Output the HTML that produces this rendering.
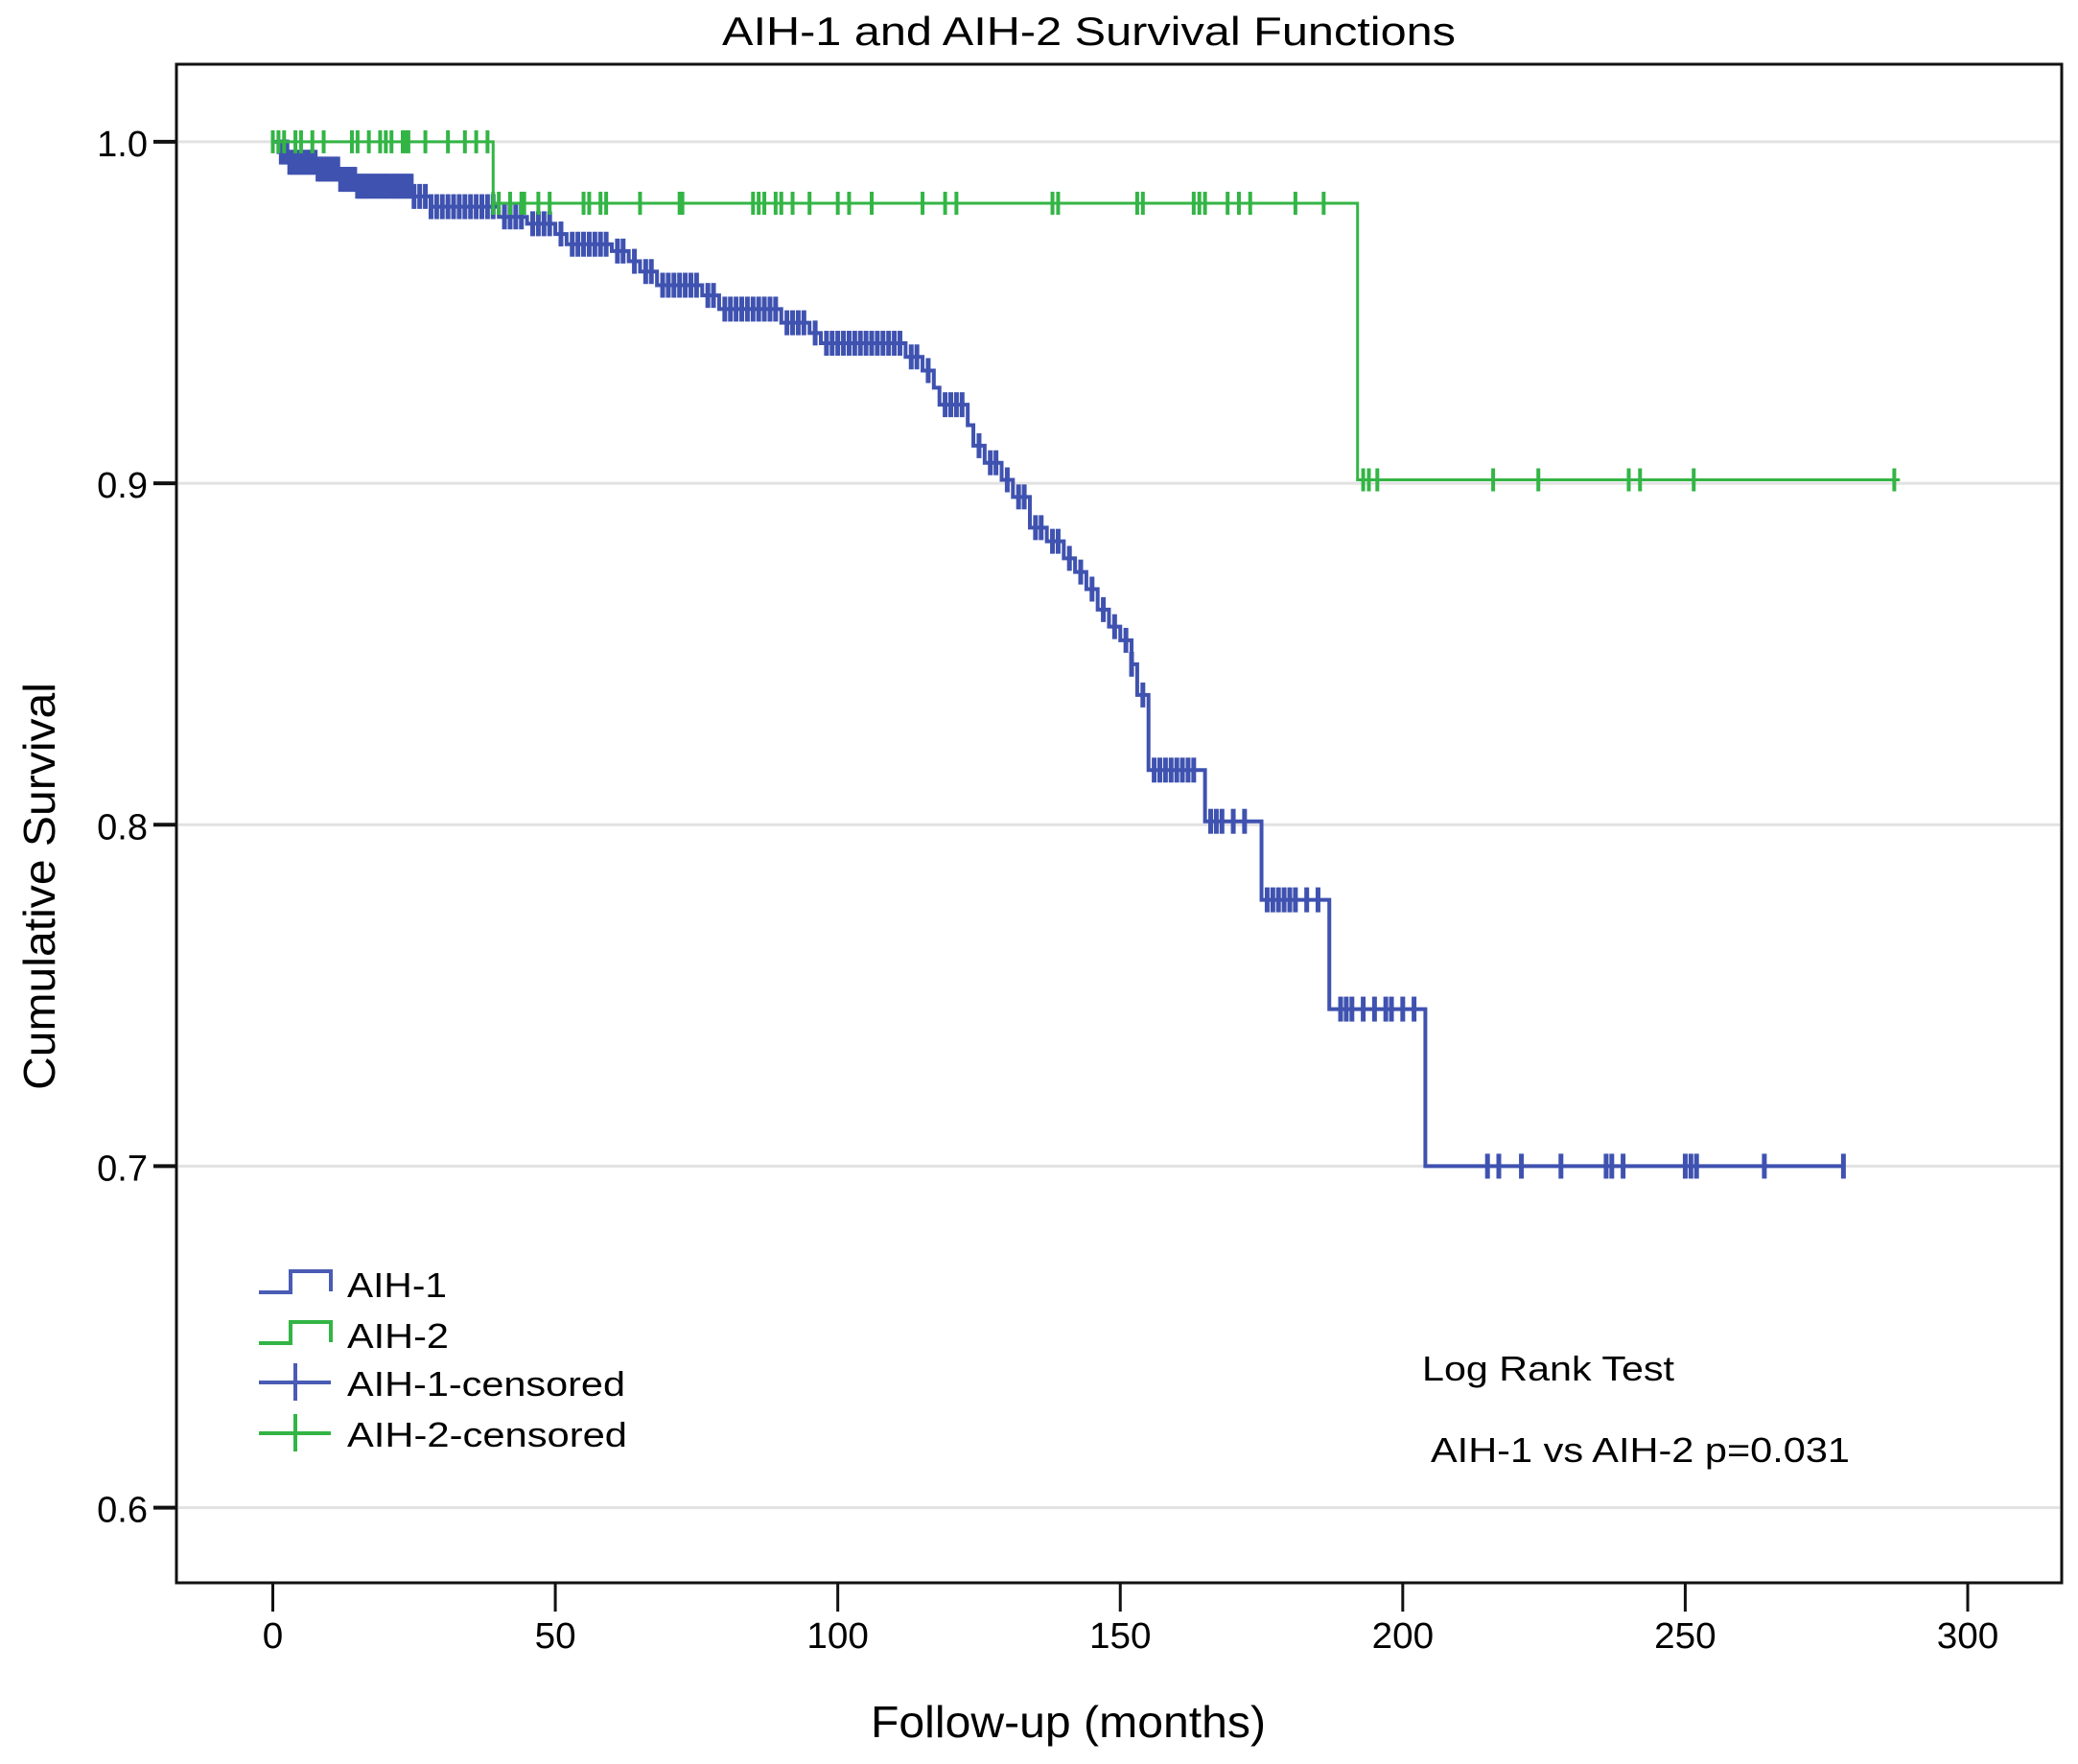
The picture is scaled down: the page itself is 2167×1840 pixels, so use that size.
<!DOCTYPE html>
<html><head><meta charset="utf-8"><style>
html,body{margin:0;padding:0;background:#fff;}
svg{display:block;font-family:"Liberation Sans",sans-serif;}
</style></head><body>
<svg id="chart" width="2167" height="1840" viewBox="0 0 2167 1840">
<text x="753" y="47" font-size="42" textLength="765" lengthAdjust="spacingAndGlyphs">AIH-1 and AIH-2 Survival Functions</text>
<g id="grid"></g>
<g id="series"></g>
<rect x="184" y="67" width="1966" height="1584" fill="none" stroke="#111" stroke-width="3"/>
<g id="axes"></g>
<text x="908" y="1812" font-size="46" textLength="412" lengthAdjust="spacingAndGlyphs">Follow-up (months)</text>
<text transform="translate(57,1137) rotate(-90)" font-size="46" textLength="425" lengthAdjust="spacingAndGlyphs">Cumulative Survival</text>
<g>
 <g>
  <polyline points="270,1348 303,1348 303,1326 345,1326 345,1347" fill="none" stroke="#4a5cb4" stroke-width="4"/>
  <text x="362" y="1353" font-size="36" textLength="104" lengthAdjust="spacingAndGlyphs">AIH-1</text></g>
 <g>
  <polyline points="270,1401 303,1401 303,1379 345,1379 345,1400" fill="none" stroke="#33b545" stroke-width="4"/>
  <text x="362" y="1406" font-size="36" textLength="106" lengthAdjust="spacingAndGlyphs">AIH-2</text></g>
 <g>
  <line x1="270" y1="1442" x2="345" y2="1442" stroke="#4a5cb4" stroke-width="4"/><line x1="308" y1="1422" x2="308" y2="1461" stroke="#4a5cb4" stroke-width="4"/>
  <text x="362" y="1456" font-size="36" textLength="290" lengthAdjust="spacingAndGlyphs">AIH-1-censored</text></g>
 <g>
  <line x1="270" y1="1495" x2="345" y2="1495" stroke="#33b545" stroke-width="4"/><line x1="308" y1="1475" x2="308" y2="1514" stroke="#33b545" stroke-width="4"/>
  <text x="362" y="1509" font-size="36" textLength="292" lengthAdjust="spacingAndGlyphs">AIH-2-censored</text></g>
</g>
<text x="1483" y="1440" font-size="36" textLength="263" lengthAdjust="spacingAndGlyphs">Log Rank Test</text>
<text x="1492" y="1525" font-size="36" textLength="437" lengthAdjust="spacingAndGlyphs">AIH-1 vs AIH-2 p=0.031</text>
</svg>
<script>
const xTicks=[0,50,100,150,200,250,300];
const yTicks=[0.6,0.7,0.8,0.9,1.0];
const yTickLabels=["0.6","0.7","0.8","0.9","1.0"];
const aih1Times=[0,1,3,8,12,15,25,28,40,45,50,52,60,63,65,68,76,79,90,95,97,112,115,117,118,123,124,126,129,131,134,137,140,142,144,146,148,150,152,153,155,165,175,187,204];
const aih1Surv=[1.0,0.997,0.994,0.992,0.989,0.987,0.984,0.981,0.978,0.976,0.973,0.970,0.968,0.965,0.962,0.958,0.955,0.951,0.947,0.944,0.941,0.937,0.933,0.928,0.923,0.917,0.911,0.906,0.901,0.896,0.887,0.883,0.878,0.874,0.869,0.863,0.858,0.854,0.847,0.838,0.816,0.801,0.778,0.746,0.700];
const aih1End=278;
const aih1Censored=[1.5,2,2.5,3,3.5,4,4.5,5,5.5,6,6.5,7,7.5,8,8.5,9,9.5,10,10.5,11,11.5,12,12.5,13,13.5,14,14.5,15,15.5,16,16.5,17,17.5,18,18.5,19,19.5,20,20.5,21,21.5,22,22.5,23,23.5,24,24.5,25,26,27,28,29,30,31,32,33,34,35,36,37,38,39,41,42,43,44,46,47,48,49,51,53,54,55,56,57,58,59,61,62,64,66,67,69,70,71,72,73,74,75,77,78,80,81,82,83,84,85,86,87,88,89,91,92,93,94,96,98,99,100,101,102,103,104,105,106,107,108,109,110,111,113,114,116,119,120,121,122,125,127,128,130,132,133,135,136,138,139,141,143,145,147,149,151,152,154,156,157,158,159,160,161,162,163,166,167,168,170,172,176,177,178,179,180,181,183,185,189,190,191,193,195,197,198,200,202,215,217,221,228,236,237,239,250,251,252,264,278];
const aih2Times=[0,39,192];
const aih2Surv=[1.0,0.982,0.901];
const aih2End=288;
const aih2Censored=[0,1,2,4,5,7,9,14,15,17,19,20,21,23,23.5,24,27,31,34,36,38,39,40,42,44,44.5,47,49,55,56,58,59,65,72,72.5,85,86,87,89,90,92,95,100,102,106,115,119,121,138,139,153,154,163,164,165,169,171,173,181,186,193,194,195.5,216,224,240,242,251.5,287];

const NS="http://www.w3.org/2000/svg";
const X=t=>284.5+t*(2052-284.5)/300;
const Y=s=>147.9+(1-s)*(1572.6-147.9)/0.4;
function mk(tag,attrs,parent){const e=document.createElementNS(NS,tag);for(const k in attrs)e.setAttribute(k,attrs[k]);parent.appendChild(e);return e;}
const grid=document.getElementById('grid'),axes=document.getElementById('axes'),series=document.getElementById('series');
yTicks.forEach((v,i)=>{
 const g=mk('line',{x1:186,x2:2148,y1:Y(v),y2:Y(v),stroke:'#e2e2e2','stroke-width':3},grid);
 
 
 const tk=mk('line',{x1:160,x2:184,y1:Y(v),y2:Y(v),stroke:'#111','stroke-width':4},axes);
 
 
 const tx=mk('text',{x:154,y:Y(v)+15,'text-anchor':'end','font-size':38},axes);
 tx.textContent=yTickLabels[i];
 
 
});
xTicks.forEach(v=>{
 const tk=mk('line',{x1:X(v),x2:X(v),y1:1651,y2:1681,stroke:'#111','stroke-width':3},axes);
 
 
 const s=String(v);
 const w=s.length*21.5;
 const tx=mk('text',{x:X(v)-w/2,y:1719,'font-size':38,textLength:w,lengthAdjust:'spacingAndGlyphs'},axes);
 tx.textContent=s;
 
 
});
function stepAt(times,surv,t){let s=surv[0];for(let i=0;i<times.length;i++){if(times[i]<=t)s=surv[i];}return s;}
function drawSeries(times,surv,end,cens,color,name,w,lw,h){
 let d='M'+X(times[0])+','+Y(surv[0]);
 for(let i=1;i<times.length;i++){d+=' H'+X(times[i])+' V'+Y(surv[i]);}
 d+=' H'+X(end);
 const p=mk('path',{d:d,fill:'none',stroke:color,'stroke-width':lw},series);
 
 
 cens.forEach(t=>{
  const y=Y(stepAt(times,surv,t));
  const c=mk('line',{x1:X(t),x2:X(t),y1:y-h,y2:y+h,stroke:color,'stroke-width':w},series);
  
  
 });
}
drawSeries(aih1Times,aih1Surv,aih1End,aih1Censored,'#3f52b0','aih1',5,4,13);
drawSeries(aih2Times,aih2Surv,aih2End,aih2Censored,'#33b545','aih2',4,3,12);
</script>
</body></html>
